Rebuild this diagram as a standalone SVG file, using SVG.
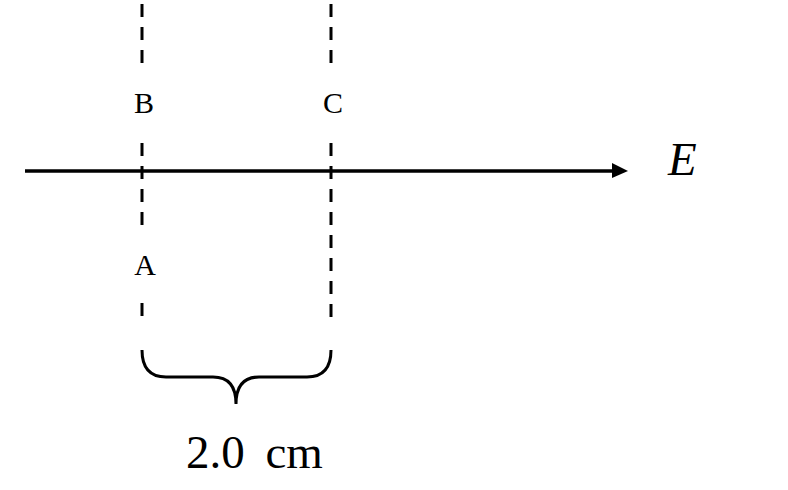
<svg xmlns="http://www.w3.org/2000/svg" width="788" height="490" viewBox="0 0 788 490">
<style>
.dash{stroke:#000;stroke-width:3;stroke-dasharray:13 10;fill:none}
.serif{font-family:"Liberation Serif","Times New Roman",serif;fill:#000}
.lbl{font-size:30px}
.big{font-size:47px}
</style>
<rect width="788" height="490" fill="#fff"/>
<g id="connectors">
<line class="dash" x1="142" y1="4" x2="142" y2="64"/>
<line class="dash" x1="142" y1="143" x2="142" y2="226"/>
<line class="dash" x1="142" y1="303" x2="142" y2="318"/>
<line class="dash" x1="331" y1="4" x2="331" y2="64"/>
<line class="dash" x1="331" y1="143" x2="331" y2="318"/>
<line x1="25" y1="171" x2="614" y2="171" stroke="#000" stroke-width="3.5"/>
<polygon points="612,163 628,171 612,178" fill="#000"/>
<path d="M142,350 Q142,377 166,377 L213,377 Q236,377 236,404 Q236,377 259,377 L307,377 Q331,377 331,350" fill="none" stroke="#000" stroke-width="3"/>
</g>
<g id="B"><text class="serif lbl" x="144" y="113" text-anchor="middle">B</text></g>
<g id="C"><text class="serif lbl" x="333" y="113" text-anchor="middle">C</text></g>
<g id="A"><text class="serif lbl" x="145" y="275" text-anchor="middle">A</text></g>
<g id="E"><text class="serif big" x="668" y="175" font-style="italic">E</text></g>
<g id="dist"><text class="serif big" x="186" y="468" word-spacing="9">2.0 cm</text></g>
</svg>
